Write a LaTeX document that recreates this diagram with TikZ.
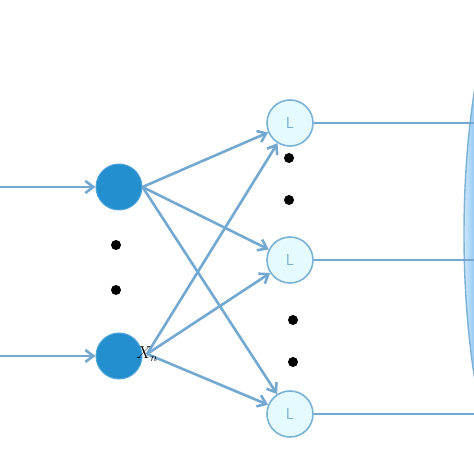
\documentclass[tikz,border=0pt]{standalone}
\usetikzlibrary{arrows.meta,shadings}
\definecolor{edgecol}{rgb}{0.45,0.66,0.82}
\definecolor{infill}{rgb}{0.14,0.56,0.81}
\definecolor{lfill}{rgb}{0.90,0.98,0.99}
\definecolor{lline}{rgb}{0.48,0.70,0.84}
\definecolor{lenscol}{rgb}{0.55,0.78,0.95}
\tikzset{
  innode/.style={circle,fill=infill,draw=infill!80!white,line width=1bp,minimum size=46bp,inner sep=0pt},
  lnode/.style={circle,fill=lfill,draw=lline,line width=1.6bp,minimum size=46bp,inner sep=0pt,
    font=\sffamily\fontsize{16}{18}\selectfont,text=lline},
  vdot/.style={circle,fill=black,minimum size=10bp,inner sep=0pt},
  conn/.style={draw=edgecol,line width=2.6bp},
}
\begin{document}
\begin{tikzpicture}[>={Straight Barb[length=8bp,width=12bp]}]
  \useasboundingbox (0bp,0bp) rectangle (474bp,474bp);
  \clip (0bp,0bp) rectangle (474bp,474bp);
%%
  % Lens
  \begin{scope}
    \clip (550bp,240bp) ellipse (86bp and 300bp);
    \shade [left color=lenscol!35!white,right color=lenscol] (462bp,0bp) rectangle (476bp,474bp);
  \end{scope}
  \draw [draw=lline,line width=1.4bp] (550bp,240bp) ellipse (86bp and 300bp);
  % Nodes: inputs
  \node [innode] (in1) at (119bp,287bp) {};
  \node [innode] (in2) at (119bp,118bp) {};
  \coordinate (xn) at (147bp,120bp);
  \coordinate (src1) at (0bp,287bp);
  \coordinate (src2) at (0bp,118bp);
  % Nodes: L
  \node [lnode] (l1) at (290bp,351bp) {L};
  \node [lnode] (l2) at (290bp,214bp) {L};
  \node [lnode] (l3) at (290bp,60bp) {L};
  \coordinate (out1) at (474bp,351bp);
  \coordinate (out2) at (474bp,214bp);
  \coordinate (out3) at (474bp,60bp);
  % Dots
  \node [vdot] (d1) at (116bp,229bp) {};
  \node [vdot] (d2) at (116bp,184bp) {};
  \node [vdot] (d3) at (289bp,316bp) {};
  \node [vdot] (d4) at (289bp,274bp) {};
  \node [vdot] (d5) at (293bp,154bp) {};
  \node [vdot] (d6) at (293bp,112bp) {};
  % Edges: inputs
  \draw [conn,->] (src1) -- (in1);
  \draw [conn,->] (src2) -- (in2);
  % Edges: in -> L
  \foreach \l in {l1,l2,l3} {
    \draw [conn,->] (in1.east) -- (\l);
    \draw [conn,->] (xn) -- (\l);
  }
  % Edges: L -> lens
  \draw [conn] (l1) -- (out1);
  \draw [conn] (l2) -- (out2);
  \draw [conn] (l3) -- (out3);
  % Label: X_n
  \node [inner sep=0pt,font=\fontsize{18}{20}\selectfont] (xnlabel) at (xn) {$X_n$};
%
\end{tikzpicture}
\end{document}
